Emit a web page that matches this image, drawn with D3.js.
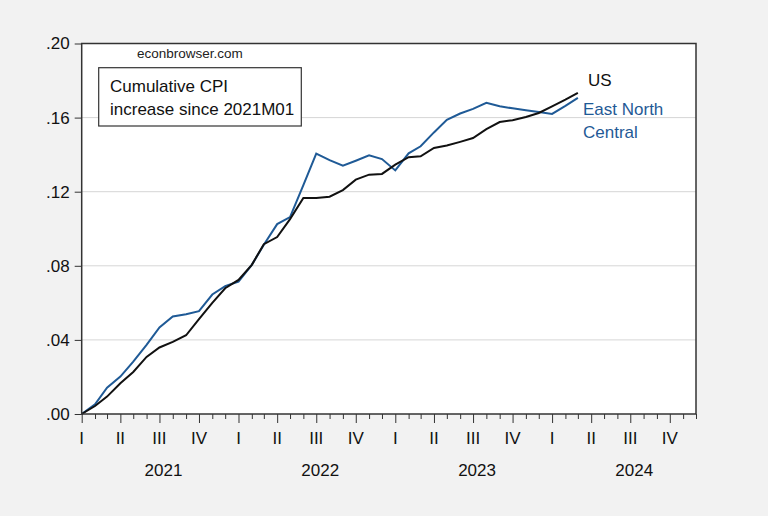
<!DOCTYPE html>
<html>
<head>
<meta charset="utf-8">
<script src="https://cdn.jsdelivr.net/npm/d3@7"></script>
<style>
  body { margin: 0; background: #f2f2f2; }
  text { font-family: Arial, "Liberation Sans", sans-serif; }
</style>
</head>
<body>
<div id="chart-area"></div>
<script>
// months of the sample (EViews style codes)
var months = ["2021M01","2021M02","2021M03","2021M04","2021M05","2021M06","2021M07","2021M08","2021M09","2021M10","2021M11","2021M12",
              "2022M01","2022M02","2022M03","2022M04","2022M05","2022M06","2022M07","2022M08","2022M09","2022M10","2022M11","2022M12",
              "2023M01","2023M02","2023M03","2023M04","2023M05","2023M06","2023M07","2023M08","2023M09","2023M10","2023M11","2023M12",
              "2024M01","2024M02","2024M03"];

// cumulative CPI increase since 2021M01
var us = [0, 0.0043, 0.0094, 0.0166, 0.0227, 0.0308, 0.0359, 0.0389, 0.0425, 0.0512, 0.0600, 0.0679,
          0.0724, 0.0805, 0.0917, 0.0955, 0.1052, 0.1166, 0.1166, 0.1173, 0.1209, 0.1265, 0.1292, 0.1296,
          0.1346, 0.1386, 0.1391, 0.1436, 0.1449, 0.1469, 0.1490, 0.1538, 0.1576, 0.1586, 0.1603, 0.1625,
          0.1661, 0.1697, 0.1734];
var enc = [0, 0.0052, 0.0142, 0.0202, 0.0283, 0.0373, 0.0467, 0.0526, 0.0539, 0.0555, 0.0645, 0.0690,
           0.0715, 0.0805, 0.0914, 0.1025, 0.1063, 0.1235, 0.1405, 0.1370, 0.1340, 0.1367, 0.1396, 0.1376,
           0.1315, 0.1407, 0.1445, 0.1520, 0.1588, 0.1622, 0.1647, 0.1680, 0.1661, 0.1650, 0.1640, 0.1630,
           0.1620, 0.1663, 0.1706];

var yTicks = [0, 0.04, 0.08, 0.12, 0.16, 0.20];
var quarterLabels = ["I", "II", "III", "IV"];
var years = ["2021", "2022", "2023", "2024"];

var W = 768, H = 516;
var plotL = 81.7, plotR = 696, plotT = 43.5, plotB = 414;
var blue = "#1f5a96";

var parseM = d3.timeParse("%YM%m");

var svg = d3.select("#chart-area")
    .append("svg")
    .attr("width", W)
    .attr("height", H);

svg.append("rect").attr("width", W).attr("height", H).attr("fill", "#f2f2f2");

var x = d3.scaleTime()
    .domain([parseM("2021M01"), parseM("2024M12")])
    .range([plotL, plotR]);
var y = d3.scaleLinear()
    .domain([0, 0.2])
    .range([plotB, plotT]);

// plot background
svg.append("rect")
    .attr("x", plotL).attr("y", plotT)
    .attr("width", plotR - plotL).attr("height", plotB - plotT)
    .attr("fill", "#fff");

// grid lines
svg.selectAll(".grid").data(yTicks.slice(1, -1)).enter()
    .append("line")
        .attr("x1", plotL).attr("x2", plotR)
        .attr("y1", (d) => y(d)).attr("y2", (d) => y(d))
        .attr("stroke", "#d6d6d6")
        .attr("stroke-width", 1);

// y axis
var yAxis = d3.axisLeft(y)
    .tickValues(yTicks)
    .tickSize(7)
    .tickPadding(5)
    .tickFormat((d) => d3.format(".2f")(d).replace(/^0/, ""));
var gy = svg.append("g").attr("transform", "translate(" + plotL + ",0)").call(yAxis);
gy.select(".domain").remove();
gy.selectAll("line").attr("stroke", "#333");
gy.selectAll("text").attr("font-size", 17).attr("fill", "#111").attr("font-family", "Arial, 'Liberation Sans', sans-serif");

// x axis: month ticks, longer at quarters
var allMonths = d3.timeMonth.range(parseM("2021M01"), d3.timeMonth.offset(parseM("2024M12"), 1));
var xAxis = d3.axisBottom(x)
    .tickValues(allMonths)
    .tickSize(5)
    .tickFormat("");
var gx = svg.append("g").attr("transform", "translate(0," + plotB + ")").call(xAxis);
gx.select(".domain").remove();
gx.selectAll(".tick line")
    .attr("stroke", "#333")
    .attr("y2", (d) => d.getMonth() % 3 === 0 ? 9 : 5);

// quarter labels
svg.selectAll(".qlab").data(allMonths.filter((d) => d.getMonth() % 3 === 0)).enter()
    .append("text")
        .attr("x", (d) => x(d))
        .attr("y", 444)
        .attr("text-anchor", "middle")
        .attr("font-size", 17)
        .attr("fill", "#111")
        .text((d) => quarterLabels[d.getMonth() / 3]);

// year labels
svg.selectAll(".ylab").data(years).enter()
    .append("text")
        .attr("x", (d) => x(parseM(d + "M07")) + 4)
        .attr("y", 476)
        .attr("text-anchor", "middle")
        .attr("font-size", 17)
        .attr("fill", "#111")
        .text((d) => d);

// lines
var line = d3.line()
    .x((d, i) => x(parseM(months[i])))
    .y((d) => y(d));

svg.append("path").datum(enc)
    .attr("d", line)
    .attr("fill", "none")
    .attr("stroke", blue)
    .attr("stroke-width", 2);
svg.append("path").datum(us)
    .attr("d", line)
    .attr("fill", "none")
    .attr("stroke", "#111")
    .attr("stroke-width", 2);

// frame
svg.append("rect")
    .attr("x", plotL).attr("y", plotT)
    .attr("width", plotR - plotL).attr("height", plotB - plotT)
    .attr("fill", "none")
    .attr("stroke", "#333")
    .attr("stroke-width", 1.5);

// annotations
svg.append("text").attr("x", 137).attr("y", 58)
    .attr("font-size", 13.5).attr("fill", "#222")
    .text("econbrowser.com");

svg.append("rect")
    .attr("x", 98.7).attr("y", 67.7)
    .attr("width", 202.6).attr("height", 58.3)
    .attr("fill", "#fff")
    .attr("stroke", "#333")
    .attr("stroke-width", 1.2);
svg.append("text").attr("x", 110).attr("y", 92)
    .attr("font-size", 17).attr("fill", "#111")
    .text("Cumulative CPI");
svg.append("text").attr("x", 110).attr("y", 115)
    .attr("font-size", 17).attr("fill", "#111")
    .text("increase since 2021M01");

svg.append("text").attr("x", 588).attr("y", 86)
    .attr("font-size", 17).attr("fill", "#111")
    .text("US");
svg.append("text").attr("x", 583).attr("y", 115)
    .attr("font-size", 17).attr("fill", blue)
    .text("East North");
svg.append("text").attr("x", 583).attr("y", 138)
    .attr("font-size", 17).attr("fill", blue)
    .text("Central");
</script>
</body>
</html>
